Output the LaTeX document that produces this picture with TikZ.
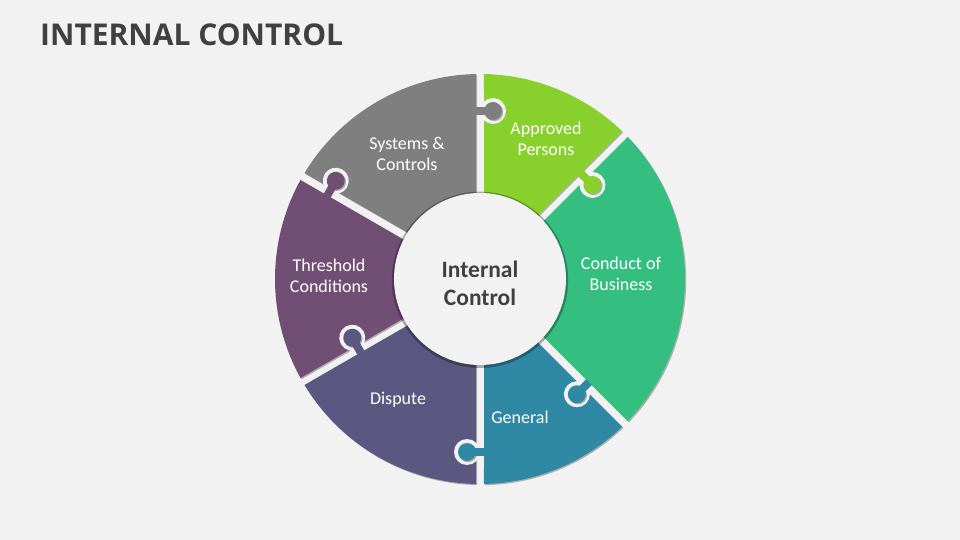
\documentclass[tikz,border=0pt]{standalone}
\usepackage{fontspec}
\setmainfont{Carlito}
\newfontfamily\titlefont{Open Sans}
\usetikzlibrary{calc,shadows}
\definecolor{bg}{HTML}{F2F2F2}
\definecolor{cgray}{HTML}{7F7F7F}
\definecolor{capp}{HTML}{88D02C}
\definecolor{ccond}{HTML}{34BF80}
\definecolor{cgen}{HTML}{2F88A4}
\definecolor{cdisp}{HTML}{5A5880}
\definecolor{cthr}{HTML}{714F74}
\definecolor{ctext}{HTML}{404040}
\tikzset{
  pshadow/.style={drop shadow={shadow xshift=1.2pt, shadow yshift=-1.2pt, opacity=0.28, fill=black}},
  lbl/.style={text=white, font=\fontsize{18}{21.5}\selectfont, align=center, inner sep=0pt},
}
\newcommand{\puzpiece}[3]{%
  \fill[#3, pshadow] ({#1+1.118}:205pt) arc[start angle={#1+1.118}, end angle={#2-1.118}, radius=205pt]
    -- ($({#2}:70pt)+({#2-90}:4pt)$) -- ($({#1}:70pt)+({#1+90}:4pt)$) -- cycle;}
\newcommand{\puzknob}[3]{%
  \begin{scope}[rotate=#1]
    \fill[bg] (#2,-13) circle[radius=13pt];
    \fill[bg] (#2-8,-0.5) rectangle (#2+8,-13);
    \fill[#3, pshadow] (#2,-13) circle[radius=9pt];
    \fill[#3] (#2-4,4.2) rectangle (#2+4,-13);
  \end{scope}}
\begin{document}
\begin{tikzpicture}[x=1pt,y=1pt]
  \useasboundingbox (-480,-261) rectangle (480,279);
  \fill[bg] (-480,-261) rectangle (480,279);
  % title
  \node[anchor=base west, inner sep=0pt, text=ctext, font=\titlefont\bfseries\fontsize{30}{36}\selectfont] (title) at (-440,233) {INTERNAL CONTROL};
  % pieces
  \puzpiece{45}{90}{capp}
  \puzpiece{-45}{45}{ccond}
  \puzpiece{270}{315}{cgen}
  \puzpiece{210}{270}{cdisp}
  \puzpiece{150}{210}{cthr}
  \puzpiece{90}{150}{cgray}
  % knobs
  \puzknob{90}{168}{cgray}
  \puzknob{45}{146}{capp}
  \puzknob{-45}{150}{cgen}
  \puzknob{270}{173}{cgen}
  \puzknob{210}{140}{cdisp}
  \puzknob{150}{174}{cthr}
  % centre
  \node[circle, fill=bg, minimum size=172pt, inner sep=0pt,
        drop shadow={shadow xshift=0pt, shadow yshift=-0.8pt, shadow scale=1.025, opacity=0.3, fill=black}] (centre) at (0,0) {};
  \node[text=ctext, font=\bfseries\fontsize{23.5}{28}\selectfont, align=center, inner sep=0pt] (centretext) at (0,-4) {Internal\\Control};
  % labels
  \node[lbl] (approved) at (66,140) {Approved\\Persons};
  \node[lbl] (systems) at (-73,125) {Systems \&\\Controls};
  \node[lbl] (threshold) at (-151,3) {Threshold\\Conditions};
  \node[lbl] (conduct) at (141,5) {Conduct of\\Business};
  \node[lbl] (dispute) at (-82,-121) {Dispute};
  \node[lbl] (general) at (40,-138) {General};
\end{tikzpicture}
\end{document}
